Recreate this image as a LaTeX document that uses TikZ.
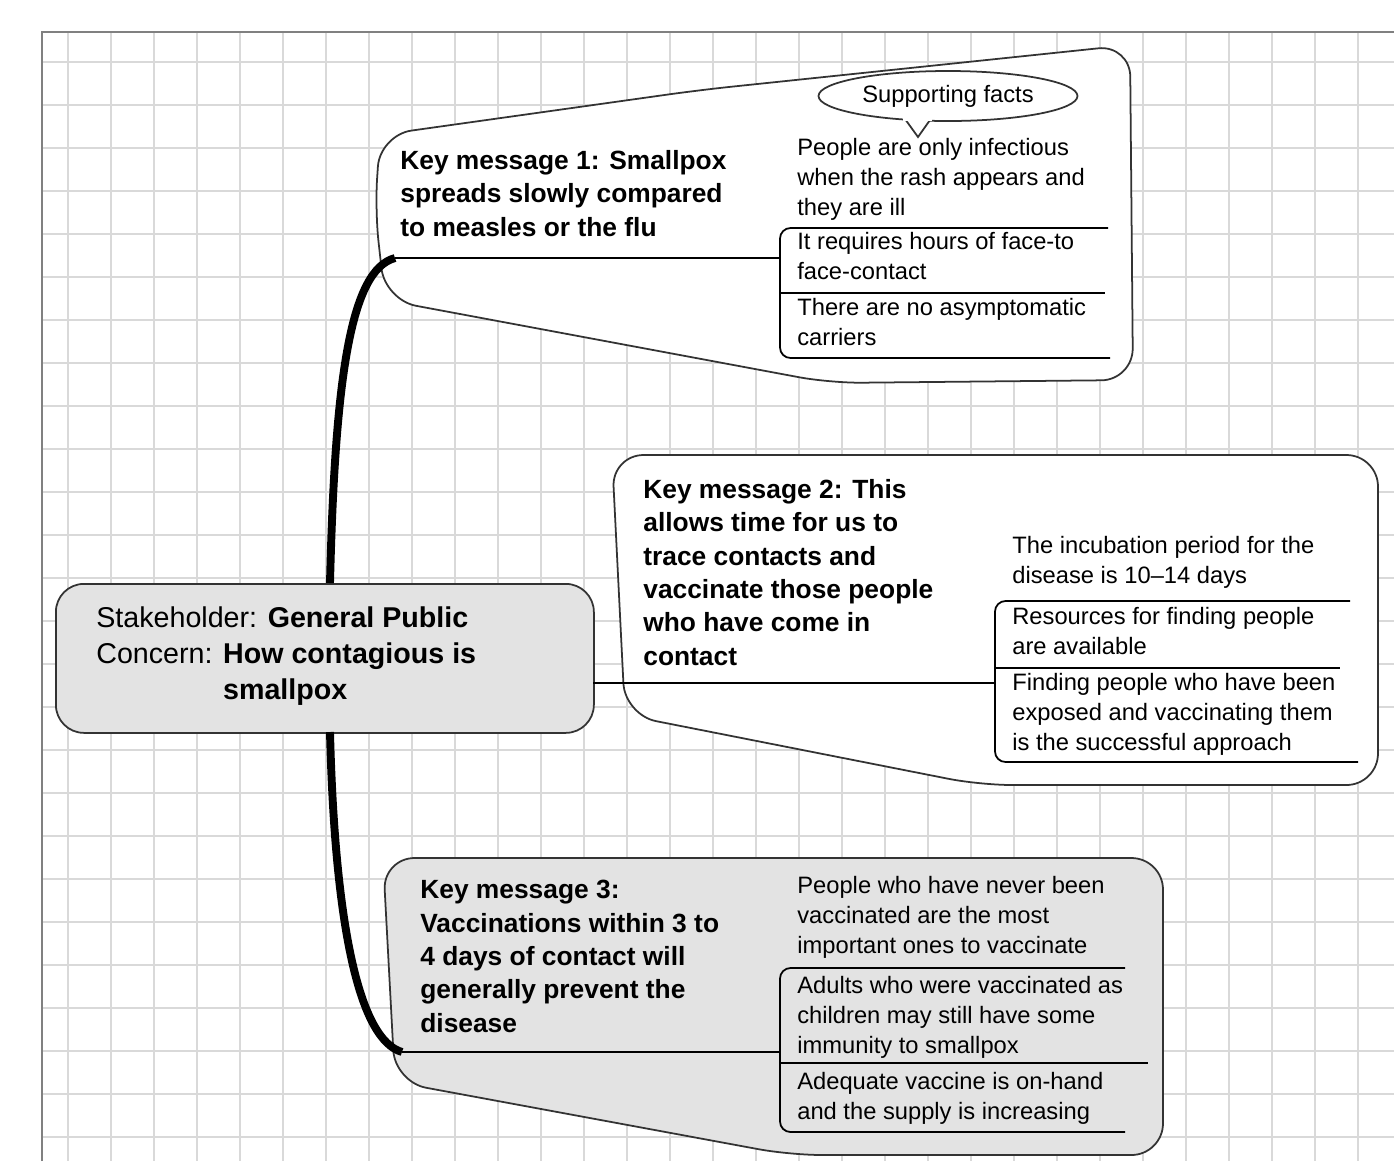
\documentclass[tikz,border=0pt]{standalone}
\usepackage{fontspec}
\setmainfont{Liberation Sans}
\usetikzlibrary{shapes.geometric,calc}
\definecolor{gridc}{gray}{0.85}
\definecolor{boxg}{gray}{0.89}
\tikzset{
 px/.style={x=0.02cm,y=-0.02cm},
 callout/.style={draw=black!80,line width=1pt,rounded corners=18pt},
 fact/.style={anchor=north west,align=left,inner sep=0pt,font=\fontsize{13.5}{17}\selectfont},
 keymsg/.style={anchor=north west,align=left,inner sep=0pt,font=\fontsize{15}{19}\selectfont\bfseries},
 brk/.style={draw,line width=1pt},
 branch/.style={draw,line width=1.1pt},
}
\begin{document}
\begin{tikzpicture}[px]
\useasboundingbox (0,0) rectangle (1394,1161);
\fill[white] (0,0) rectangle (1394,1161);
% grid
\foreach \x in {68,111,...,1394} \draw[gridc,line width=0.8pt] (\x,32) -- (\x,1161);
\foreach \y in {62,105,...,1161} \draw[gridc,line width=0.8pt] (42,\y) -- (1394,\y);
\draw[gray,line width=0.8pt] (42,1161) -- (42,32) -- (1394,32);
% callout 1
\draw[callout,fill=white] (700,90) -- (1130,45) -- (1133,380) -- (830,383) -- (385,300) -- (375,210) -- (380,135) -- cycle;
% callout 2
\draw[callout,fill=white] (900,455) -- (1378,455) -- (1378,785) -- (980,785) -- (625,715) -- (612,455) -- cycle;
% callout 3
\draw[callout,fill=boxg] (800,858) -- (1163,858) -- (1163,1155) -- (790,1155) -- (395,1082) -- (383,858) -- cycle;
% central
\node[draw=black!80,line width=1pt,fill=boxg,rounded corners=16pt,minimum width=538*0.02cm,minimum height=149*0.02cm,anchor=north west] (c) at (55,583) {};
\node[anchor=north west,align=left,inner sep=0pt,font=\fontsize{16.3}{20.5}\selectfont] (ct) at (96,606)
 {Stakeholder: \textbf{General Public}\\Concern: \textbf{How contagious is}\\\hphantom{Concern: }\textbf{smallpox}};
% branch coords
\coordinate (b1) at (395,258);
\coordinate (b3) at (402,1052);
\coordinate (ctop) at (330,583);
\coordinate (cbot) at (330,732);
\draw[line width=4.5pt] (ctop) .. controls (335,380) and (350,270) .. (b1);
\draw[line width=4.5pt] (cbot) .. controls (335,930) and (360,1040) .. (b3);
% message 1
\node[keymsg] (k1) at (400,150) {Key message 1: Smallpox\\spreads slowly compared\\to measles or the flu};
\coordinate (f1) at (780,258);
\draw[branch] (b1) -- (f1);
\node[draw=black!80,line width=1pt,ellipse,fill=white,minimum width=222*0.02cm,minimum height=50*0.02cm,font=\fontsize{13.5}{16}\selectfont] (sf) at (948,96) {Supporting facts};
\draw[fill=white,draw=black!80,line width=1pt] (905,119) -- (918,137) -- (930,120);
\fill[white] (903,116) rectangle (932,120.5);
\node[fact] (a1) at (797,138) {People are only infectious\\when the rash appears and\\they are ill};
\node[fact] (a2) at (797,232) {It requires hours of face-to\\face-contact};
\node[fact] (a3) at (797,298) {There are no asymptomatic\\carriers};
\draw[brk,rounded corners=6pt] (1108,228) -- (780,228) -- (780,358) -- (1110,358);
\draw[brk] (780,293) -- (1105,293);
% message 2
\coordinate (c2) at (593,683);
\coordinate (f2) at (995,683);
\draw[branch] (c2) -- (f2);
\node[keymsg] (k2) at (643,479) {Key message 2: This\\allows time for us to\\trace contacts and\\vaccinate those people\\who have come in\\contact};
\node[fact] (d1) at (1012,536) {The incubation period for the\\disease is 10--14 days};
\node[fact] (d2) at (1012,607) {Resources for finding people\\are available};
\node[fact] (d3) at (1012,673) {Finding people who have been\\exposed and vaccinating them\\is the successful approach};
\draw[brk,rounded corners=6pt] (1350,601) -- (995,601) -- (995,762) -- (1358,762);
\draw[brk] (995,668) -- (1340,668);
% message 3
\node[keymsg] (k3) at (420,880) {Key message 3:\\Vaccinations within 3 to\\4 days of contact will\\generally prevent the\\disease};
\coordinate (f3) at (780,1052);
\draw[branch] (b3) -- (f3);
\node[fact] (e1) at (797,876) {People who have never been\\vaccinated are the most\\important ones to vaccinate};
\node[fact] (e2) at (797,976) {Adults who were vaccinated as\\children may still have some\\immunity to smallpox};
\node[fact] (e3) at (797,1072) {Adequate vaccine is on-hand\\and the supply is increasing};
\draw[brk,rounded corners=6pt] (1125,968) -- (780,968) -- (780,1132) -- (1125,1132);
\draw[brk] (780,1063) -- (1148,1063);
\end{tikzpicture}
\end{document}
